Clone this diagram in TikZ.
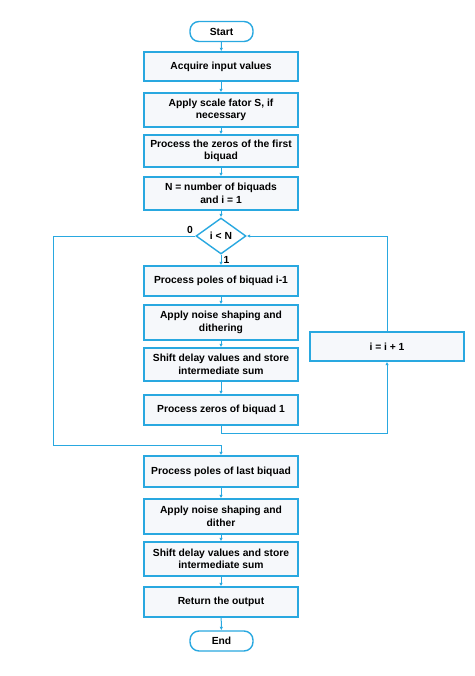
\documentclass[tikz,border=0pt]{standalone}
\usepackage{fontspec}
\setmainfont{Liberation Sans}
\usetikzlibrary{shapes.geometric,arrows.meta}
\definecolor{flowline}{RGB}{41,168,224}
\definecolor{flowfill}{RGB}{246,248,251}

\begin{document}
\begin{tikzpicture}[x=1pt, y=-1pt,
    every node/.style={font=\fontsize{10.3}{12.5}\selectfont\bfseries},
    procbox/.style={draw=flowline, fill=flowfill, line width=1.4pt, minimum width=154pt, align=center, inner sep=1pt},
    termbox/.style={draw=flowline, fill=white, line width=1.4pt, rounded corners=9pt, minimum width=63pt, minimum height=20pt},
    decbox/.style={draw=flowline, fill=white, line width=1.4pt, diamond, aspect=1.4, minimum width=50pt, minimum height=36pt, inner sep=0pt},
    flow/.style={draw=flowline, line width=1pt, -{Latex[length=3.5pt,width=3.5pt]}}]
  \useasboundingbox (0,0) rectangle (474,676);
  \node[termbox] (start) at (221.5, 31.5) {Start};
  \node[procbox, minimum height=29pt] (acquire) at (221, 66.5) {Acquire input values};
  \node[procbox, minimum height=34pt] (scale) at (221, 110) {Apply scale fator S, if\\necessary};
  \node[procbox, minimum height=32pt] (zeros) at (221, 151) {Process the zeros of the first\\biquad};
  \node[procbox, minimum height=33pt] (count) at (221, 193.5) {N = number of biquads\\and i = 1};
  \node[decbox] (test) at (221, 236) {i < N};
  \node[procbox, minimum height=30pt] (poles) at (221, 281) {Process poles of biquad i-1};
  \node[procbox, minimum height=35pt] (noise) at (221, 322.5) {Apply noise shaping and\\dithering};
  \node[procbox, minimum height=33pt] (shift) at (221, 364.5) {Shift delay values and store\\intermediate sum};
  \node[procbox, minimum height=30pt] (zerosi) at (221, 410) {Process zeros of biquad 1};
  \node[procbox, minimum height=29pt] (incr) at (387, 346.5) {i = i + 1};
  \node[procbox, minimum height=31pt] (last) at (221, 471.5) {Process poles of last biquad};
  \node[procbox, minimum height=35pt] (noiselast) at (221, 516.5) {Apply noise shaping and\\dither};
  \node[procbox, minimum height=34pt] (shiftlast) at (221, 559) {Shift delay values and store\\intermediate sum};
  \node[procbox, minimum height=30pt] (output) at (221, 602) {Return the output};
  \node[termbox] (end) at (221.5, 641) {End};
  % main column
  \draw[flow] (start) -- (acquire);
  \draw[flow] (acquire) -- (scale);
  \draw[flow] (scale) -- (zeros);
  \draw[flow] (zeros) -- (count);
  \draw[flow] (count) -- (test);
  \draw[flow] (test) -- node[pos=0.45, right, inner sep=2pt] {1} (poles);
  \draw[flow] (poles) -- (noise);
  \draw[flow] (noise) -- (shift);
  \draw[flow] (shift) -- (zerosi);
  \draw[flow] (last) -- (noiselast);
  \draw[flow] (noiselast) -- (shiftlast);
  \draw[flow] (shiftlast) -- (output);
  \draw[flow] (output) -- (end);
  % loops
  \draw[flow] (test.west) node[above left, inner sep=2pt] {0} -| (53, 445) -| (last.north);
  \draw[flow] (zerosi.south) |- (387, 433) -- (incr.south);
  \draw[flow] (incr.north) |- (test.east);
\end{tikzpicture}
\end{document}
